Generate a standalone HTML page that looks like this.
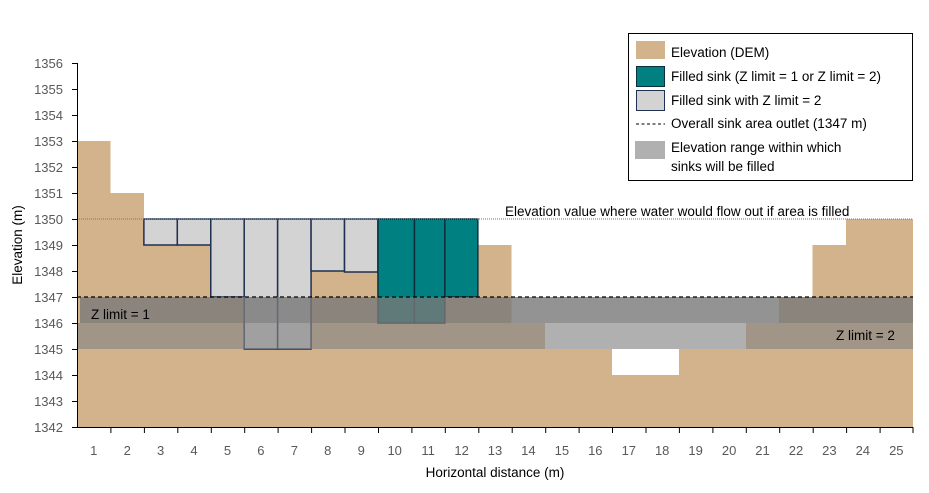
<!DOCTYPE html>
<html><head><meta charset="utf-8"><style>
body{margin:0;background:#fff}
svg{display:block;font-family:"Liberation Sans",Arial,sans-serif}
</style></head><body>
<svg width="929" height="493" viewBox="0 0 929 493">
<path fill="#d2b38b" shape-rendering="crispEdges" d="M77,427 V141 H110.44 V193 H143.88 V245 H210.76 V297 H244.2 V349 H311.08 V271 H344.52 V272 H377.96 V323 H444.84 V297 H478.28 V245 H511.72 V323 H545.16 V349 H612.04 V375 H678.92 V349 H745.8 V323 H779.24 V297 H812.68 V245 H846.12 V219 H913 V427 Z"/>
<g fill="#d3d3d3" stroke="#1f3050" stroke-width="1.5">
<rect x="143.88" y="219" width="33.44" height="26"/>
<rect x="177.32" y="219" width="33.44" height="26"/>
<rect x="210.76" y="219" width="33.44" height="78"/>
<rect x="244.2" y="219" width="33.44" height="130"/>
<rect x="277.64" y="219" width="33.44" height="130"/>
<rect x="311.08" y="219" width="33.44" height="52"/>
<rect x="344.52" y="219" width="33.44" height="53"/>
</g>
<g fill="#008080" stroke="#0d2f3c" stroke-width="1.5">
<rect x="377.96" y="219" width="36.5" height="104"/>
<rect x="414.46" y="219" width="30.38" height="104"/>
<rect x="444.84" y="219" width="33" height="78"/>
</g>
<g shape-rendering="crispEdges">
<rect x="80" y="297" width="833" height="26" fill="rgb(120,120,120)" fill-opacity="0.8"/>
<rect x="77" y="323" width="836" height="26" fill="rgb(132,132,132)" fill-opacity="0.644"/>
</g>
<line x1="77" y1="219" x2="913" y2="219" stroke="#777" stroke-width="1" stroke-dasharray="1,1"/>
<line x1="77" y1="297" x2="913" y2="297" stroke="#000" stroke-width="1.2" stroke-dasharray="4,3"/>
<text x="505" y="216" font-size="13.5" fill="#000">Elevation value where water would flow out if area is filled</text>
<text x="91" y="319" font-size="13.5" fill="#000">Z limit = 1</text>
<text x="836" y="340" font-size="13.5" fill="#000">Z limit = 2</text>
<g stroke="#000" stroke-width="1">
<line x1="77.5" y1="63" x2="77.5" y2="428"/>
<line x1="77" y1="427.5" x2="913" y2="427.5"/>
</g>
<g stroke="#000" stroke-width="1">
<line x1="72" y1="63.5" x2="77" y2="63.5"/><line x1="72" y1="89.5" x2="77" y2="89.5"/><line x1="72" y1="115.5" x2="77" y2="115.5"/><line x1="72" y1="141.5" x2="77" y2="141.5"/><line x1="72" y1="167.5" x2="77" y2="167.5"/><line x1="72" y1="193.5" x2="77" y2="193.5"/><line x1="72" y1="219.5" x2="77" y2="219.5"/><line x1="72" y1="245.5" x2="77" y2="245.5"/><line x1="72" y1="271.5" x2="77" y2="271.5"/><line x1="72" y1="297.5" x2="77" y2="297.5"/><line x1="72" y1="323.5" x2="77" y2="323.5"/><line x1="72" y1="349.5" x2="77" y2="349.5"/><line x1="72" y1="375.5" x2="77" y2="375.5"/><line x1="72" y1="401.5" x2="77" y2="401.5"/><line x1="72" y1="427.5" x2="77" y2="427.5"/>
</g>
<g font-size="13" fill="#595959" text-anchor="end">
<text x="63" y="68">1356</text><text x="63" y="94">1355</text><text x="63" y="120">1354</text><text x="63" y="146">1353</text><text x="63" y="172">1352</text><text x="63" y="198">1351</text><text x="63" y="224">1350</text><text x="63" y="250">1349</text><text x="63" y="276">1348</text><text x="63" y="302">1347</text><text x="63" y="328">1346</text><text x="63" y="354">1345</text><text x="63" y="380">1344</text><text x="63" y="406">1343</text><text x="63" y="432">1342</text>
</g>
<g stroke="#000" stroke-width="1">
<line x1="110.9" y1="427" x2="110.9" y2="433"/><line x1="144.4" y1="427" x2="144.4" y2="433"/><line x1="177.8" y1="427" x2="177.8" y2="433"/><line x1="211.3" y1="427" x2="211.3" y2="433"/><line x1="244.7" y1="427" x2="244.7" y2="433"/><line x1="278.1" y1="427" x2="278.1" y2="433"/><line x1="311.6" y1="427" x2="311.6" y2="433"/><line x1="345" y1="427" x2="345" y2="433"/><line x1="378.5" y1="427" x2="378.5" y2="433"/><line x1="411.9" y1="427" x2="411.9" y2="433"/><line x1="445.3" y1="427" x2="445.3" y2="433"/><line x1="478.8" y1="427" x2="478.8" y2="433"/><line x1="512.2" y1="427" x2="512.2" y2="433"/><line x1="545.7" y1="427" x2="545.7" y2="433"/><line x1="579.1" y1="427" x2="579.1" y2="433"/><line x1="612.5" y1="427" x2="612.5" y2="433"/><line x1="646" y1="427" x2="646" y2="433"/><line x1="679.4" y1="427" x2="679.4" y2="433"/><line x1="712.9" y1="427" x2="712.9" y2="433"/><line x1="746.3" y1="427" x2="746.3" y2="433"/><line x1="779.7" y1="427" x2="779.7" y2="433"/><line x1="813.2" y1="427" x2="813.2" y2="433"/><line x1="846.6" y1="427" x2="846.6" y2="433"/><line x1="880.1" y1="427" x2="880.1" y2="433"/><line x1="913" y1="427" x2="913" y2="433"/>
</g>
<g font-size="13" fill="#595959" text-anchor="middle">
<text x="93.7" y="455">1</text><text x="127.2" y="455">2</text><text x="160.6" y="455">3</text><text x="194" y="455">4</text><text x="227.5" y="455">5</text><text x="260.9" y="455">6</text><text x="294.4" y="455">7</text><text x="327.8" y="455">8</text><text x="361.2" y="455">9</text><text x="394.7" y="455">10</text><text x="428.1" y="455">11</text><text x="461.6" y="455">12</text><text x="495" y="455">13</text><text x="528.4" y="455">14</text><text x="561.9" y="455">15</text><text x="595.3" y="455">16</text><text x="628.8" y="455">17</text><text x="662.2" y="455">18</text><text x="695.6" y="455">19</text><text x="729.1" y="455">20</text><text x="762.5" y="455">21</text><text x="796" y="455">22</text><text x="829.4" y="455">23</text><text x="862.8" y="455">24</text><text x="896.3" y="455">25</text>
</g>
<text x="495" y="477" font-size="13.5" fill="#000" text-anchor="middle">Horizontal distance (m)</text>
<text transform="translate(22,245) rotate(-90)" font-size="13.5" fill="#000" text-anchor="middle">Elevation (m)</text>
<rect x="628.5" y="33.5" width="284" height="147" fill="#fff" stroke="#000" stroke-width="1"/>
<rect x="636" y="41" width="29" height="18" fill="#d2b38b"/>
<rect x="636.5" y="66.5" width="28" height="20" fill="#008080" stroke="#0d2f3c"/>
<rect x="636.5" y="90.5" width="28" height="20" fill="#d3d3d3" stroke="#1f3050"/>
<line x1="636" y1="124" x2="665" y2="124" stroke="#000" stroke-dasharray="3,2.5"/>
<rect x="635" y="141" width="30" height="18" fill="#b0b0b0"/>
<g font-size="13.5" fill="#000">
<text x="671" y="57">Elevation (DEM)</text>
<text x="671" y="81">Filled sink (Z limit = 1 or Z limit = 2)</text>
<text x="671" y="105">Filled sink with Z limit = 2</text>
<text x="671" y="128">Overall sink area outlet (1347 m)</text>
<text x="671" y="152">Elevation range within which</text>
<text x="671" y="171">sinks will be filled</text>
</g>
</svg>
</body></html>
